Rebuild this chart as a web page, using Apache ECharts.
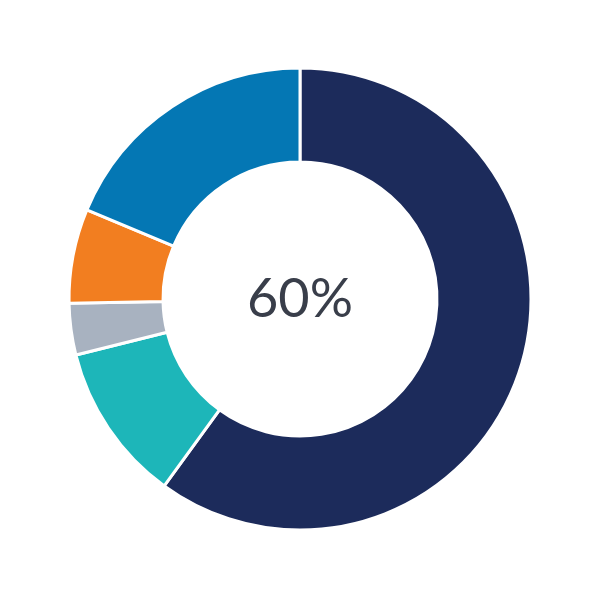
<!DOCTYPE html>
<html>
<head>
<meta charset="utf-8">
<script src="https://cdn.jsdelivr.net/npm/echarts@6/dist/echarts.min.js"></script>
<style>
  html, body { margin: 0; padding: 0; background: #fff; }
  #chart { width: 600px; height: 599px; }
</style>
</head>
<body>
<div id="chart"></div>
<script>
// slice shares, clockwise from 12 o'clock
const names = ['A', 'B', 'C', 'D', 'E'];
const values = [60, 11.1, 3.6, 6.6, 18.7];
const colors = ['#1c2b5b', '#1db6b9', '#a8b2c0', '#f27e20', '#0477b4'];
const centerLabel = '60%';

const data = names.map((n, i) => ({
  name: n,
  value: values[i],
  itemStyle: { color: colors[i] }
}));

const chart = echarts.init(document.getElementById('chart'));
chart.setOption({
  animation: false,
  title: {
    text: centerLabel,
    left: 'center',
    top: 'middle',
    textStyle: {
      fontFamily: 'Lato',
      fontWeight: 'normal',
      fontSize: 54,
      color: '#393e4a'
    }
  },
  series: [
    {
      type: 'pie',
      center: [300, 299],
      radius: [137, 231],
      startAngle: 90,
      clockwise: true,
      label: { show: false },
      labelLine: { show: false },
      itemStyle: { borderColor: '#fff', borderWidth: 3 },
      emphasis: { disabled: true },
      data
    }
  ]
});
</script>
</body>
</html>
